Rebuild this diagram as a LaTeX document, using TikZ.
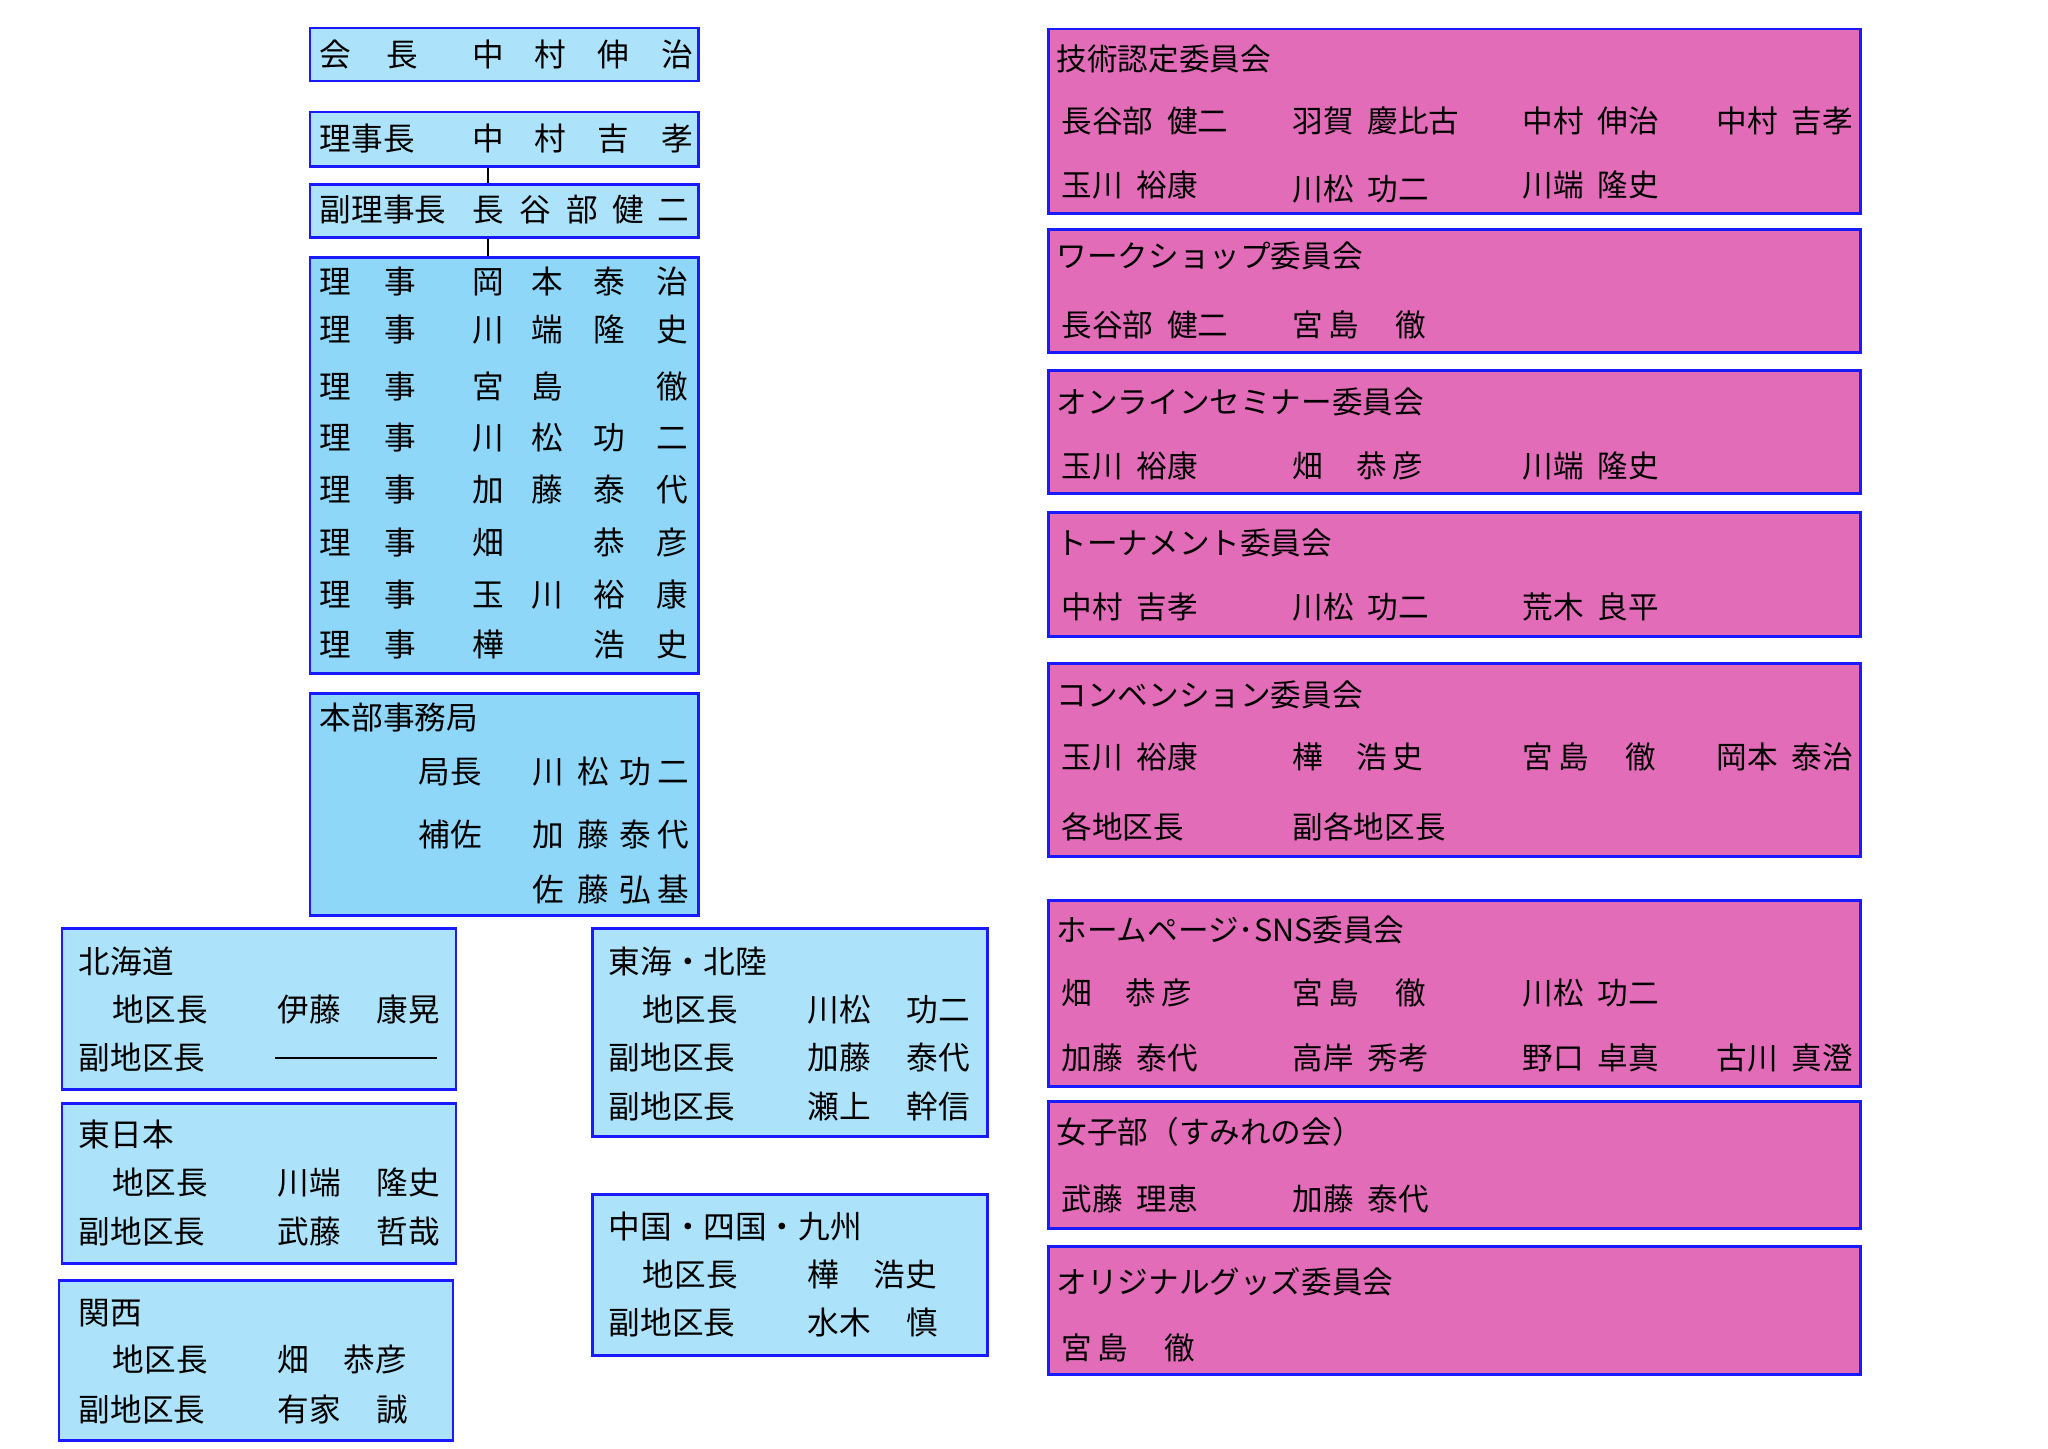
\documentclass[tikz,border=0pt]{standalone}
\usepackage{fontspec}
\setmainfont{Noto Sans CJK JP}
\usetikzlibrary{fit}
\definecolor{paleblue}{HTML}{ADE3FA}
\definecolor{skyblue}{HTML}{8ED7F8}
\definecolor{rosepink}{HTML}{E26CB8}
\definecolor{edgeblue}{HTML}{1A1AFF}
\newcommand{\nsp}{\hspace{.45em}}
\tikzset{
    frame/.style={draw=edgeblue, line width=0.85pt, inner sep=0pt},
    palebox/.style={frame, fill=paleblue},
    skybox/.style={frame, fill=skyblue},
    pinkbox/.style={frame, fill=rosepink},
    ch/.style={inner sep=0pt, text height=7.9pt, text depth=1.1pt, font=\fontsize{9pt}{10pt}\selectfont},
    lt/.style={ch, anchor=west},
    pk/.style={lt, font=\fontsize{8.7pt}{10pt}\selectfont},
    link/.style={line width=0.75pt},
}
\begin{document}
\begin{tikzpicture}[x=0.01cm, y=-0.01cm]
    \useasboundingbox (0,0) rectangle (2048,1448);
    % officers
    \node[palebox, fit={(310,28) (698,81)}] (kaicho) {};
    \node[palebox, fit={(310,112) (698,166)}] (rijicho) {};
    \node[palebox, fit={(310,184) (698,237)}] (fukuriji) {};
    \node[skybox, fit={(310,257) (698,673)}] (riji) {};
    \node[skybox, fit={(310,693) (698,915)}] (honbu) {};
    \coordinate (trunk) at (488,0);
    \draw[link] (rijicho.south -| trunk) -- (fukuriji.north -| trunk);
    \draw[link] (fukuriji.south -| trunk) -- (riji.north -| trunk);

    \foreach \c/\x [count=\i] in {会/335,長/402,中/488,村/550,伸/613,治/677}
        \node[ch] (kc\i) at (\x,55) {\c};
    \node[lt] (rjl) at (319,139) {理事長};
    \foreach \c/\x [count=\i] in {中/488,村/550,吉/613,孝/677}
        \node[ch] (rjc\i) at (\x,139) {\c};
    \node[lt] (frl) at (319,210) {副理事長};
    \foreach \c/\x [count=\i] in {長/488,谷/535,部/582,健/628,二/673}
        \node[ch] (frc\i) at (\x,210) {\c};
    \foreach \y/\a/\b/\c/\d [count=\i] in {282/岡/本/泰/治,330/川/端/隆/史,387/宮/島/{}/徹,438/川/松/功/二,
        490/加/藤/泰/代,543/畑/{}/恭/彦,595/玉/川/裕/康,645/樺/{}/浩/史}
    {
        \node[ch] (ra\i) at (335,\y) {理};
        \node[ch] (rb\i) at (400,\y) {事};
        \node[ch] (rc\i) at (488,\y) {\a};
        \node[ch] (rd\i) at (547,\y) {\b};
        \node[ch] (re\i) at (609,\y) {\c};
        \node[ch] (rf\i) at (672,\y) {\d};
    }
    \node[lt] (hbt) at (319,718) {本部事務局};
    \node[lt] (hbl1) at (418,772) {局長};
    \node[lt] (hbl2) at (418,835) {補佐};
    \foreach \y/\a/\b/\c/\d [count=\i] in {772/川/松/功/二,835/加/藤/泰/代,890/佐/藤/弘/基}
    {
        \node[ch] (ha\i) at (548,\y) {\a};
        \node[ch] (hb\i) at (593,\y) {\b};
        \node[ch] (hc\i) at (635,\y) {\c};
        \node[ch] (hd\i) at (673,\y) {\d};
    }

    % regions
    \node[palebox, fit={(62,928) (456,1089)}] (hokkaido) {};
    \node[palebox, fit={(62,1103) (456,1263)}] (higashi) {};
    \node[palebox, fit={(59,1280) (453,1440)}] (kansai) {};
    \node[palebox, fit={(592,928) (987,1136)}] (tokai) {};
    \node[palebox, fit={(592,1194) (987,1355)}] (chugoku) {};

    \node[lt] (hkt) at (78,962) {北海道};
    \node[lt] (hk1) at (112,1010) {地区長};
    \node[lt] (hk2) at (277,1010) {伊藤};
    \node[lt] (hk3) at (376,1010) {康晃};
    \node[lt] (hk4) at (78,1058) {副地区長};
    \draw[link] (275,1058) -- (437,1058);

    \node[lt] (hgt) at (78,1135) {東日本};
    \node[lt] (hg1) at (112,1183) {地区長};
    \node[lt] (hg2) at (277,1183) {川端};
    \node[lt] (hg3) at (376,1183) {隆史};
    \node[lt] (hg4) at (78,1232) {副地区長};
    \node[lt] (hg5) at (277,1232) {武藤};
    \node[lt] (hg6) at (376,1232) {哲哉};

    \node[lt] (kst) at (78,1313) {関西};
    \node[lt] (ks1) at (112,1360) {地区長};
    \node[lt] (ks2) at (277,1360) {畑};
    \node[lt] (ks3) at (343,1360) {恭彦};
    \node[lt] (ks4) at (78,1410) {副地区長};
    \node[lt] (ks5) at (277,1410) {有家};
    \node[lt] (ks6) at (376,1410) {誠};

    \node[lt] (tkt) at (608,962) {東海・北陸};
    \node[lt] (tk1) at (642,1010) {地区長};
    \node[lt] (tk2) at (807,1010) {川松};
    \node[lt] (tk3) at (906,1010) {功二};
    \node[lt] (tk4) at (608,1058) {副地区長};
    \node[lt] (tk5) at (807,1058) {加藤};
    \node[lt] (tk6) at (906,1058) {泰代};
    \node[lt] (tk7) at (608,1107) {副地区長};
    \node[lt] (tk8) at (807,1107) {瀬上};
    \node[lt] (tk9) at (906,1107) {幹信};

    \node[lt] (cgt) at (608,1227) {中国・四国・九州};
    \node[lt] (cg1) at (642,1275) {地区長};
    \node[lt] (cg2) at (807,1275) {樺};
    \node[lt] (cg3) at (873,1275) {浩史};
    \node[lt] (cg4) at (608,1323) {副地区長};
    \node[lt] (cg5) at (807,1323) {水木};
    \node[lt] (cg6) at (906,1323) {慎};

    % committees
    \node[pinkbox, fit={(1048,29) (1860,213)}] (gijutsu) {};
    \node[pinkbox, fit={(1048,229) (1860,352)}] (workshop) {};
    \node[pinkbox, fit={(1048,370) (1860,493)}] (online) {};
    \node[pinkbox, fit={(1048,512) (1860,636)}] (tournament) {};
    \node[pinkbox, fit={(1048,663) (1860,856)}] (convention) {};
    \node[pinkbox, fit={(1048,900) (1860,1086)}] (homepage) {};
    \node[pinkbox, fit={(1048,1101) (1860,1228)}] (joshibu) {};
    \node[pinkbox, fit={(1048,1246) (1860,1374)}] (goods) {};

    \node[pk] (gjt) at (1056,59) {技術認定委員会};
    \foreach \x/\y/\t [count=\i] in {1061/121/長谷部\nsp 健二,1292/121/羽賀\nsp 慶比古,1522/121/中村\nsp 伸治,
        1716/121/中村\nsp 吉孝,1061/185/玉川\nsp 裕康,1292/189/川松\nsp 功二,1522/185/川端\nsp 隆史}
        \node[pk] (gj\i) at (\x,\y) {\t};

    \node[pk] (wst) at (1056,256) {ワークショップ委員会};
    \node[pk] (ws1) at (1061,325) {長谷部\nsp 健二};
    \node[pk] (ws2) at (1292,325) {宮\,島\hspace{1.2em}徹};

    \node[pk] (olt) at (1056,402) {オンラインセミナー委員会};
    \node[pk] (ol1) at (1061,466) {玉川\nsp 裕康};
    \node[pk] (ol2) at (1292,466) {畑\hspace{1.1em}恭\,彦};
    \node[pk] (ol3) at (1522,466) {川端\nsp 隆史};

    \node[pk] (tnt) at (1056,543) {トーナメント委員会};
    \node[pk] (tn1) at (1061,607) {中村\nsp 吉孝};
    \node[pk] (tn2) at (1292,607) {川松\nsp 功二};
    \node[pk] (tn3) at (1522,607) {荒木\nsp 良平};

    \node[pk] (cvt) at (1056,695) {コンベンション委員会};
    \node[pk] (cv1) at (1061,757) {玉川\nsp 裕康};
    \node[pk] (cv2) at (1292,757) {樺\hspace{1.1em}浩\,史};
    \node[pk] (cv3) at (1522,757) {宮\,島\hspace{1.2em}徹};
    \node[pk] (cv4) at (1716,757) {岡本\nsp 泰治};
    \node[pk] (cv5) at (1061,827) {各地区長};
    \node[pk] (cv6) at (1292,827) {副各地区長};

    \node[pk] (hpt) at (1056,930) {ホームページ･SNS委員会};
    \node[pk] (hp1) at (1061,993) {畑\hspace{1.1em}恭\,彦};
    \node[pk] (hp2) at (1292,993) {宮\,島\hspace{1.2em}徹};
    \node[pk] (hp3) at (1522,993) {川松\nsp 功二};
    \node[pk] (hp4) at (1061,1058) {加藤\nsp 泰代};
    \node[pk] (hp5) at (1292,1058) {高岸\nsp 秀考};
    \node[pk] (hp6) at (1522,1058) {野口\nsp 卓真};
    \node[pk] (hp7) at (1716,1058) {古川\nsp 真澄};

    \node[pk] (jst) at (1056,1132) {女子部（すみれの会）};
    \node[pk] (js1) at (1061,1199) {武藤\nsp 理恵};
    \node[pk] (js2) at (1292,1199) {加藤\nsp 泰代};

    \node[pk] (ogt) at (1056,1282) {オリジナルグッズ委員会};
    \node[pk] (og1) at (1061,1348) {宮\,島\hspace{1.2em}徹};
\end{tikzpicture}
\end{document}
